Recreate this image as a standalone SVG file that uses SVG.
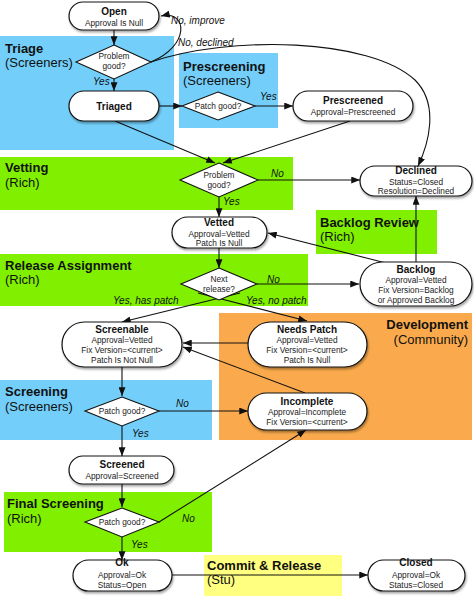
<svg xmlns="http://www.w3.org/2000/svg" width="474" height="596" viewBox="0 0 474 596">
<style>
.lane-title{font-family:"Liberation Sans",Arial,sans-serif;font-size:13px;font-weight:bold;fill:#111}
.lane-sub{font-family:"Liberation Sans",Arial,sans-serif;font-size:13px;fill:#111}
.node{fill:#fff;stroke:#111;stroke-width:1.2;filter:url(#sh)}
.dia{fill:#fff;stroke:#111;stroke-width:1.1}
.t{font-family:"Liberation Sans",Arial,sans-serif;font-size:10px;font-weight:bold;fill:#111;text-anchor:middle}
.s{font-family:"Liberation Sans",Arial,sans-serif;font-size:8.3px;fill:#222;text-anchor:middle}
.lbl{font-family:"Liberation Sans",Arial,sans-serif;font-size:10px;font-style:italic;fill:#111}
.c{fill:none;stroke:#111;stroke-width:1.1;marker-end:url(#ah)}
</style>
<defs>
<marker id="ah" viewBox="0 0 10 8" refX="10" refY="4" markerWidth="9" markerHeight="7" orient="auto" markerUnits="userSpaceOnUse"><path d="M0,0 L10,4 L0,8 z" fill="#111"/></marker>
<filter id="sh" x="-10%" y="-15%" width="125%" height="150%"><feDropShadow dx="1" dy="2" stdDeviation="1.2" flood-color="#000" flood-opacity="0.35"/></filter>
</defs>
<rect width="474" height="596" fill="#fff"/>
<g id="lanes">
<rect x="0" y="36" width="174" height="114" fill="#73CFFA"/>
<rect x="179" y="53" width="99" height="75" fill="#73CFFA"/>
<rect x="0" y="157" width="293" height="53" fill="#80F000"/>
<rect x="316" y="210" width="121" height="44" fill="#80F000"/>
<rect x="0" y="254" width="308" height="52" fill="#80F000"/>
<rect x="219" y="313" width="253" height="127" fill="#FAAA4C"/>
<rect x="0" y="380" width="212" height="60" fill="#73CFFA"/>
<rect x="4" y="492" width="208" height="60" fill="#80F000"/>
<rect x="204" y="555" width="138" height="41" fill="#FFFF80"/>
<text class="lane-title" x="5" y="53">Triage</text><text class="lane-sub" x="5" y="67">(Screeners)</text>
<text class="lane-title" x="183" y="71">Prescreening</text><text class="lane-sub" x="183" y="85">(Screeners)</text>
<text class="lane-title" x="5" y="172">Vetting</text><text class="lane-sub" x="5" y="187">(Rich)</text>
<text class="lane-title" x="320" y="227">Backlog Review</text><text class="lane-sub" x="320" y="241">(Rich)</text>
<text class="lane-title" x="5" y="270">Release Assignment</text><text class="lane-sub" x="5" y="284">(Rich)</text>
<text class="lane-title" x="468" y="329" text-anchor="end">Development</text><text class="lane-sub" x="468" y="344" text-anchor="end">(Community)</text>
<text class="lane-title" x="5" y="396">Screening</text><text class="lane-sub" x="5" y="411">(Screeners)</text>
<text class="lane-title" x="7" y="508">Final Screening</text><text class="lane-sub" x="7" y="523">(Rich)</text>
<text class="lane-title" x="207" y="570">Commit &amp; Release</text><text class="lane-sub" x="207" y="584">(Stu)</text>
</g>
<g id="connectors">
<path class="c" d="M114,30 L114,45"/>
<path class="c" d="M151,62 C190,46 188,10 161,16"/>
<path class="c" d="M151,62 C230,35 370,38 415,80 C440,105 428,145 418,166"/>
<path class="c" d="M114,79 L114,91"/>
<path class="c" d="M159,106 L182,106"/>
<path class="c" d="M255,106 L293,106"/>
<path class="c" d="M115,121 L215,163"/>
<path class="c" d="M350,121 L223,163"/>
<path class="c" d="M258,180 L360,180"/>
<path class="c" d="M219,197 L219,217"/>
<path class="c" d="M219,248 L219,268"/>
<path class="c" d="M257,284 L359,284"/>
<path class="c" d="M416,262 L416,196"/>
<path class="c" d="M386,263 L268,233"/>
<path class="c" d="M240,293 L122,322"/>
<path class="c" d="M198,293 L307,321"/>
<path class="c" d="M248,343 L183,343"/>
<path class="c" d="M305,393 L183,347"/>
<path class="c" d="M122,367 L122,396"/>
<path class="c" d="M159,411 L248,411"/>
<path class="c" d="M122,426 L122,456"/>
<path class="c" d="M122,484 L122,507"/>
<path class="c" d="M159,522 L306,430"/>
<path class="c" d="M122,537 L122,560"/>
<path class="c" d="M172,575 L368,575"/>
<text class="lbl" x="171" y="24">No, improve</text>
<text class="lbl" x="178" y="46">No, declined</text>
<text class="lbl" x="93" y="85">Yes</text>
<text class="lbl" x="260" y="100">Yes</text>
<text class="lbl" x="271" y="177">No</text>
<text class="lbl" x="223" y="205">Yes</text>
<text class="lbl" x="267" y="283">No</text>
<text class="lbl" x="113" y="304">Yes, has patch</text>
<text class="lbl" x="246" y="304">Yes, no patch</text>
<text class="lbl" x="176" y="407">No</text>
<text class="lbl" x="132" y="437">Yes</text>
<text class="lbl" x="182" y="522">No</text>
<text class="lbl" x="131" y="548">Yes</text>
</g>
<g id="open"><rect class="node" x="69" y="2" width="90" height="28" rx="14"/><text class="t" x="114" y="15">Open</text><text class="s" x="114" y="26">Approval Is Null</text></g>
<g id="d-triage"><polygon class="dia" points="114,45 151,62 114,79 76,62"/><text class="s" x="114" y="59">Problem</text><text class="s" x="114" y="69">good?</text></g>
<g id="triaged"><rect class="node" x="69" y="91" width="90" height="30" rx="15"/><text class="t" x="114" y="110">Triaged</text></g>
<g id="d-prescreen"><polygon class="dia" points="218,92 255,106 218,120 182,106"/><text class="s" x="218" y="109">Patch good?</text></g>
<g id="prescreened"><rect class="node" x="293" y="91" width="120" height="30" rx="15"/><text class="t" x="353" y="104">Prescreened</text><text class="s" x="353" y="115">Approval=Prescreened</text></g>
<g id="d-vetting"><polygon class="dia" points="219,163 258,180 219,197 180,180"/><text class="s" x="219" y="178">Problem</text><text class="s" x="219" y="188">good?</text></g>
<g id="declined"><rect class="node" x="360" y="166" width="112" height="30" rx="15"/><text class="t" x="416" y="174">Declined</text><text class="s" x="416" y="185">Status=Closed</text><text class="s" x="416" y="194">Resolution=Declined</text></g>
<g id="vetted"><rect class="node" x="172" y="217" width="95" height="31" rx="15.5"/><text class="t" x="219" y="226">Vetted</text><text class="s" x="219" y="237">Approval=Vetted</text><text class="s" x="219" y="246">Patch Is Null</text></g>
<g id="backlog"><rect class="node" x="360" y="262" width="112" height="44" rx="22"/><text class="t" x="416" y="273">Backlog</text><text class="s" x="416" y="283">Approval=Vetted</text><text class="s" x="416" y="293">Fix Version=Backlog</text><text class="s" x="416" y="303">or Approved Backlog</text></g>
<g id="d-release"><polygon class="dia" points="219,268 257,284 219,300 181,284"/><text class="s" x="219" y="282">Next</text><text class="s" x="219" y="292">release?</text></g>
<g id="screenable"><rect class="node" x="62" y="322" width="120" height="45" rx="22.5"/><text class="t" x="122" y="333">Screenable</text><text class="s" x="122" y="343">Approval=Vetted</text><text class="s" x="122" y="353">Fix Version=&lt;current&gt;</text><text class="s" x="122" y="363">Patch Is Not Null</text></g>
<g id="needs-patch"><rect class="node" x="248" y="322" width="119" height="45" rx="22.5"/><text class="t" x="307" y="333">Needs Patch</text><text class="s" x="307" y="343">Approval=Vetted</text><text class="s" x="307" y="353">Fix Version=&lt;current&gt;</text><text class="s" x="307" y="363">Patch Is Null</text></g>
<g id="d-screening"><polygon class="dia" points="122,397 159,411 122,426 85,411"/><text class="s" x="122" y="414">Patch good?</text></g>
<g id="incomplete"><rect class="node" x="248" y="393" width="119" height="37" rx="18.5"/><text class="t" x="307" y="405">Incomplete</text><text class="s" x="307" y="415">Approval=Incomplete</text><text class="s" x="307" y="425">Fix Version=&lt;current&gt;</text></g>
<g id="screened"><rect class="node" x="69" y="456" width="105" height="28" rx="14"/><text class="t" x="122" y="468">Screened</text><text class="s" x="122" y="479">Approval=Screened</text></g>
<g id="d-final"><polygon class="dia" points="122,508 159,522 122,537 85,522"/><text class="s" x="122" y="525">Patch good?</text></g>
<g id="ok"><rect class="node" x="73" y="560" width="99" height="31" rx="15.5"/><text class="t" x="122" y="566">Ok</text><text class="s" x="122" y="578">Approval=Ok</text><text class="s" x="122" y="588">Status=Open</text></g>
<g id="closed"><rect class="node" x="368" y="560" width="97" height="31" rx="15.5"/><text class="t" x="416" y="566">Closed</text><text class="s" x="416" y="578">Approval=Ok</text><text class="s" x="416" y="588">Status=Closed</text></g>
</svg>
